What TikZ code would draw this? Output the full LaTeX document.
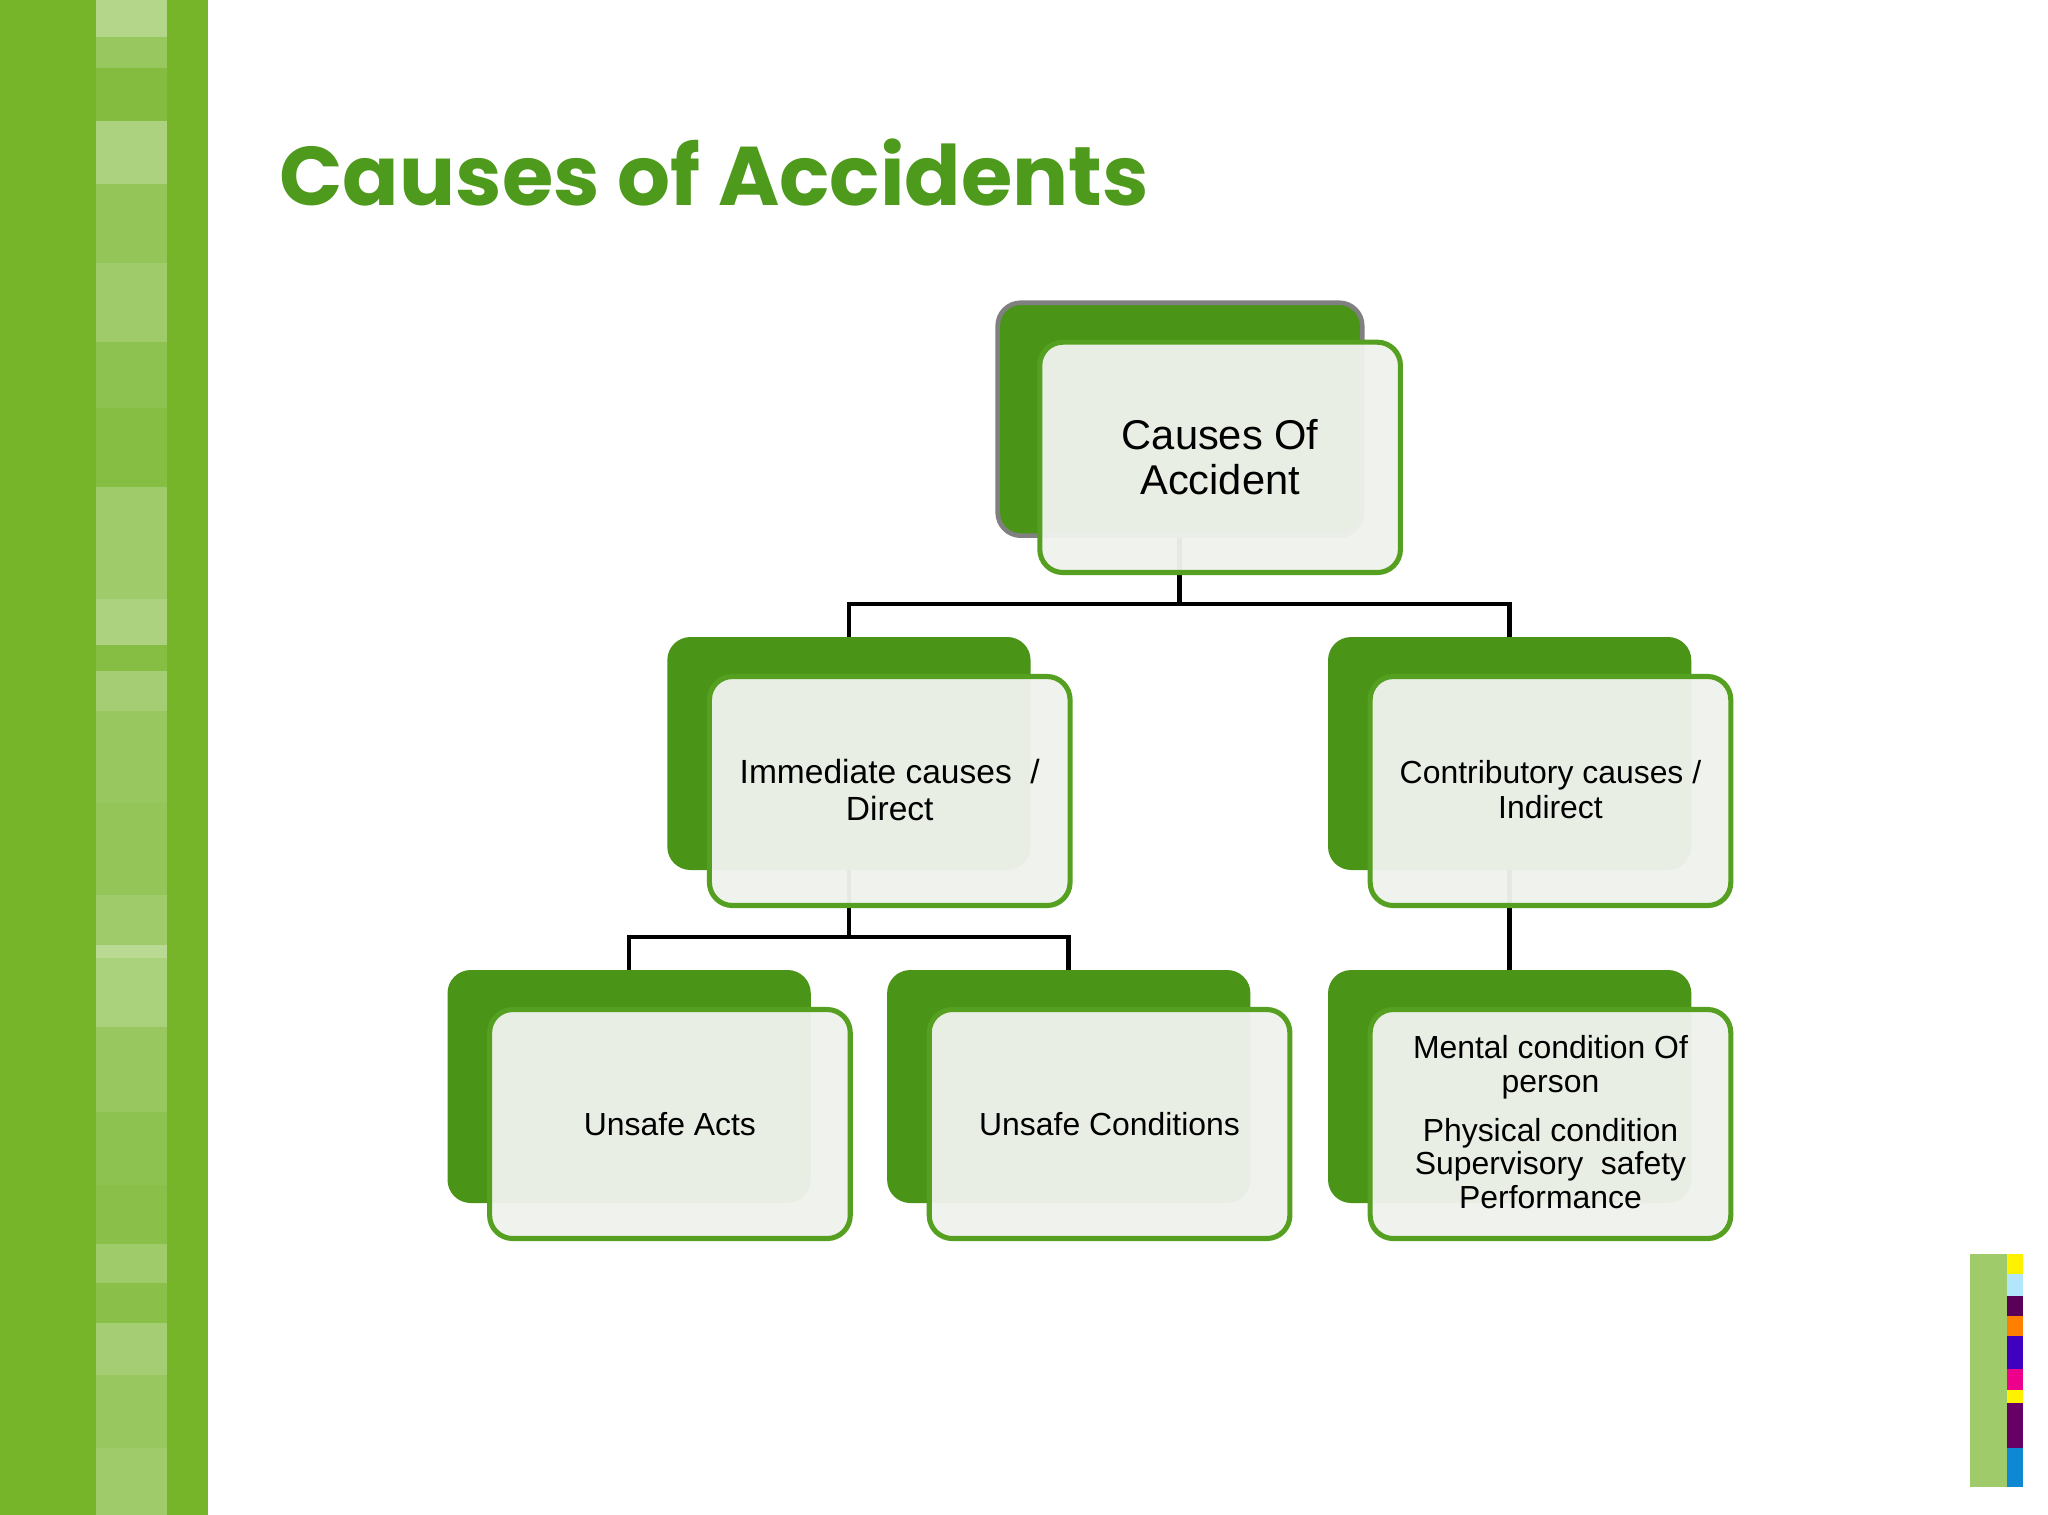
\documentclass[tikz,border=0pt]{standalone}
\usepackage{fontspec}
\setmainfont{Liberation Sans}
\newfontfamily\titlefont{Poppins}
\definecolor{gbar}{HTML}{76B52A}
\definecolor{gdark}{HTML}{4A9418}
\definecolor{gline}{HTML}{55A020}
\definecolor{titlec}{HTML}{4E9A1C}
\definecolor{lightf}{HTML}{F0F2EE}
\begin{document}
\begin{tikzpicture}[x=0.02cm,y=-0.02cm,
  backbox/.style={fill=gdark,rounded corners=10},
  frontbox/.style={draw=gline,line width=2.2pt,fill=lightf,fill opacity=0.96,rounded corners=10},
  lbl/.style={align=center,font=\fontsize{13.8}{15}\selectfont},
  conn/.style={line width=2pt,black}]
\useasboundingbox (0,0) rectangle (1556,1151);
\fill[white] (0,0) rectangle (1556,1151);
% sidebar
\fill[gbar] (0,0) rectangle (158,1151);
\foreach \a/\b/\c in {0/28/45,28/52/25,52/92/10,92/140/40,140/200/22,200/260/30,260/310/18,310/370/12,370/455/30,455/490/40,490/510/12,510/540/35,540/610/25,610/680/22,680/718/30,718/728/5,728/780/38,780/845/25,845/900/18,900/945/15,945/975/30,975/1005/15,1005/1045/35,1045/1100/25,1100/1151/30}
  \fill[white,opacity=0.\c] (73,\a) rectangle (127,\b);
% bottom-right bar
\fill[gbar!70!white] (1497,953) rectangle (1525,1130);
\foreach \a/\b/\c in {953/968/yellow,968/985/cyan!30,985/1000/violet!70!black,1000/1015/orange,1015/1040/blue!50!violet,1040/1056/magenta,1056/1066/yellow,1066/1100/violet!80!black,1100/1130/cyan!70!blue}
  \fill[\c] (1525,\a) rectangle (1537,\b);
% title
\node[anchor=west,text=titlec,inner sep=0] (title) at (212,131) {\titlefont\bfseries\fontsize{36}{40}\selectfont Causes of Accidents};
% connectors
\coordinate (h1) at (896,459);
\draw[conn] (896,407) -- (h1);
\draw[conn] (645,484) -- (645,459) -- (1147,459) -- (1147,484);
\draw[conn] (645,661) -- (645,712);
\draw[conn] (478,737) -- (478,712) -- (812,712) -- (812,737);
\draw[conn] (1147,661) -- (1147,737);
% boxes
\fill[backbox,draw=gray,line width=2pt] (758,230) rectangle (1035,407);
\draw[frontbox] (790,260) rectangle (1064,435);
\node[lbl,font=\fontsize{18}{19.5}\selectfont] (root) at (927,347) {Causes Of\\Accident};
\fill[backbox] (507,484) rectangle (783,661);
\draw[frontbox] (539,514) rectangle (813,688);
\node[lbl,font=\fontsize{14.5}{16}\selectfont] (imm) at (676,600) {Immediate causes~~/\\Direct};
\fill[backbox] (1009,484) rectangle (1285,661);
\draw[frontbox] (1041,514) rectangle (1315,688);
\node[lbl] (con) at (1178,600) {Contributory causes /\\Indirect};
\fill[backbox] (340,737) rectangle (616,914);
\draw[frontbox] (372,767) rectangle (646,941);
\node[lbl] (ua) at (509,854) {Unsafe Acts};
\fill[backbox] (674,737) rectangle (950,914);
\draw[frontbox] (706,767) rectangle (980,941);
\node[lbl] (uc) at (843,854) {Unsafe Conditions};
\fill[backbox] (1009,737) rectangle (1285,914);
\draw[frontbox] (1041,767) rectangle (1315,941);
\node[lbl,font=\fontsize{13.8}{14.5}\selectfont] (mc) at (1178,811) {Mental condition Of\\person};
\node[lbl,font=\fontsize{13.8}{14.5}\selectfont] (pc) at (1178,884) {Physical condition\\Supervisory~~safety\\Performance};
\end{tikzpicture}
\end{document}
